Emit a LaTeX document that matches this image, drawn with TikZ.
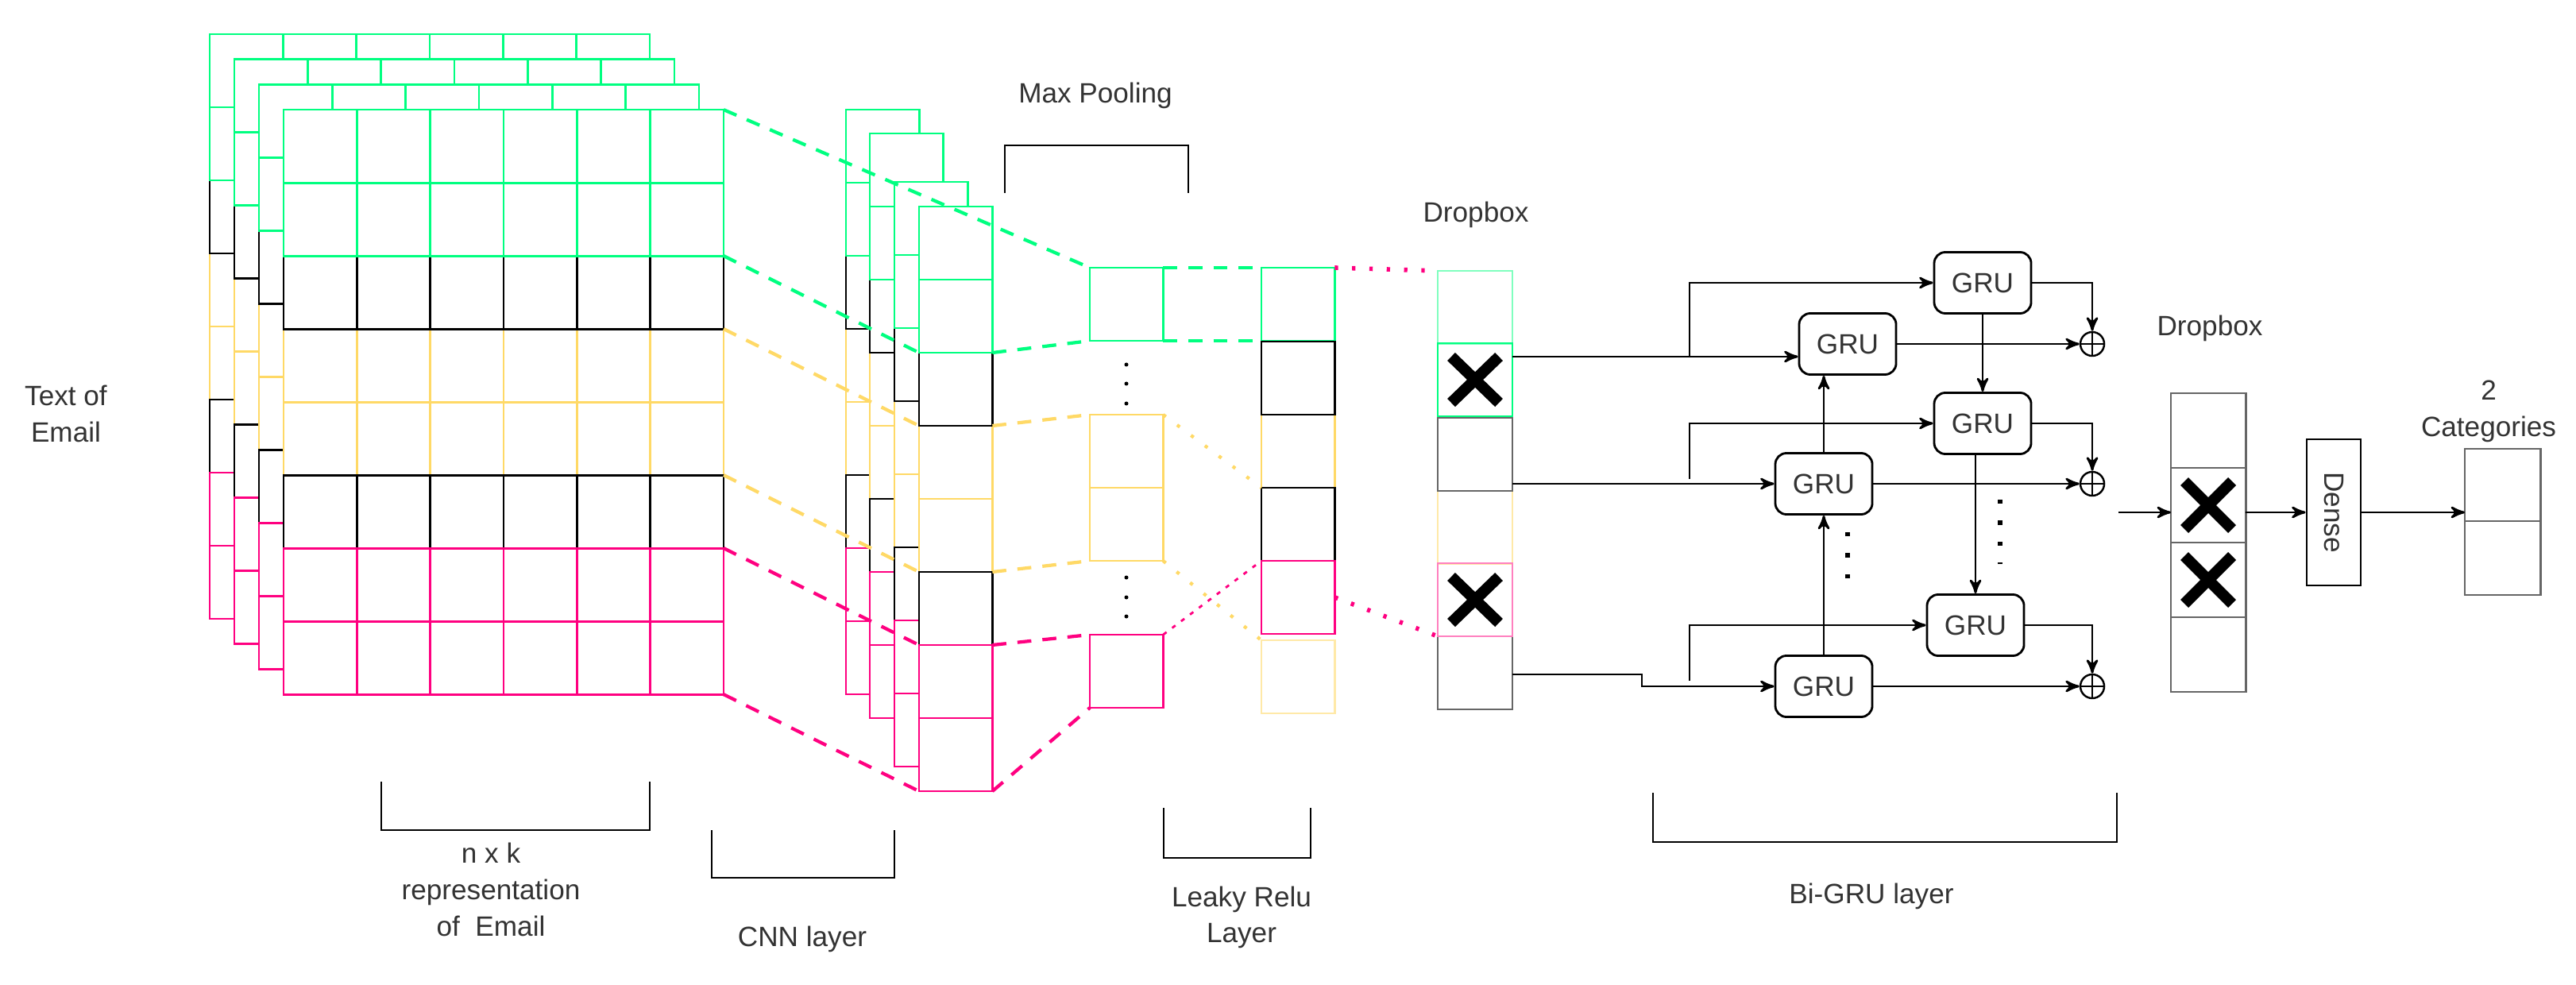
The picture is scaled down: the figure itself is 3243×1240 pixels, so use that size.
\documentclass[tikz,border=0pt]{standalone}
\usepackage{fontspec}
\setmainfont{Liberation Sans}
\usepackage{tikz}
\usetikzlibrary{arrows}
\usetikzlibrary{calc}
\definecolor{cgreen}{HTML}{00FF80}
\definecolor{cyellow}{HTML}{FFD966}
\definecolor{cpink}{HTML}{FF0080}
\definecolor{lgreen}{HTML}{80FFBF}
\definecolor{lyellow}{HTML}{FFE9A8}
\definecolor{lpink}{HTML}{FF80BF}
\definecolor{cgray}{HTML}{666666}
\definecolor{ctext}{HTML}{333333}
\begin{document}
\begin{tikzpicture}
[x=0.01cm,y=-0.01cm,
  cell/.style={draw,line width=0.8pt,inner sep=0pt,outer sep=0pt,
    minimum width=0.923cm,minimum height=0.92cm,anchor=north west},
  dropped/.style={path picture={
    \draw[line width=4pt,black]
      ([xshift=0.17cm,yshift=-0.17cm]path picture bounding box.north west) --
      ([xshift=-0.17cm,yshift=0.17cm]path picture bounding box.south east)
      ([xshift=-0.17cm,yshift=-0.17cm]path picture bounding box.north east) --
      ([xshift=0.17cm,yshift=0.17cm]path picture bounding box.south west);}},
  gru/.style={draw,rounded corners=4pt,line width=0.8pt,minimum width=1.22cm,
    minimum height=0.77cm,font=\fontsize{10}{12}\selectfont,text=ctext},
  plus/.style={draw,circle,line width=0.7pt,minimum size=0.3cm,inner sep=0pt,
    path picture={\draw (path picture bounding box.north) -- (path picture bounding box.south)
      (path picture bounding box.west) -- (path picture bounding box.east);}},
  label/.style={font=\fontsize{10}{13}\selectfont,text=ctext,align=center},
  dashdecorate/.style={line width=1.2pt,dash pattern=on 5pt off 4pt},
  dotdecorate/.style={line width=1.2pt,dash pattern=on 1.2pt off 5pt},
  flow/.style={-stealth',line width=0.8pt},
  bracket/.style={line width=0.8pt}]
\useasboundingbox (0,0) rectangle (3243,1240);
%% n x k grid, four layers
\foreach \lay in {0,...,3}
{
  \pgfmathsetmacro\ox{264+31*\lay}
  \pgfmathsetmacro\oy{43+31.7*\lay}
  \fill[white] (\ox,\oy) rectangle ++(554,736);
  \foreach \r/\col in {3/cyellow, 4/cyellow, 2/black, 5/black, 0/cgreen, 1/cgreen, 6/cpink, 7/cpink}
    \foreach \c in {0,...,5}
      \node[cell,draw=\col] (e\lay-\r-\c) at (\ox+92.33*\c,\oy+92*\r) {};
}
%% CNN columns
\foreach \lay/\ox/\oy in {0/1065/138, 1/1095/168, 2/1126/229, 3/1157/260}
{
  \fill[white] (\ox,\oy) rectangle ++(92,736);
  \foreach \r/\col in {3/cyellow, 4/cyellow, 2/black, 5/black, 0/cgreen, 1/cgreen, 6/cpink, 7/cpink}
    \node[cell,draw=\col] (k\lay-\r) at (\ox,\oy+92*\r) {};
}
%% max pooling
\node[cell,draw=cgreen] (pool1) at (1372,337) {};
\node[cell,draw=cyellow] (pool2a) at (1372,522) {};
\node[cell,draw=cyellow] (pool2b) at (1372,614) {};
\node[cell,draw=cpink] (pool3) at (1372,799) {};
\foreach \y in {459,483,508,727,752,776}
  \fill (1418,\y) circle (2.5);
%% leaky relu
\foreach \i/\y/\col in {5/806/lyellow, 2/522/cyellow, 0/337/cgreen, 1/430/black, 3/614/black, 4/706/cpink}
  \node[cell,draw=\col] (r\i) at (1588,\y) {};
%% dropbox
\foreach \i/\y/\col in {0/341/lgreen, 3/618/lyellow, 2/526/cgray, 5/801/cgray, 1/432/cgreen, 4/709/lpink}
  \node[cell,draw=\col,minimum width=0.94cm] (d\i) at (1810,\y) {};
\node[cell,draw=none,dropped,minimum width=0.94cm] at (d1.north west) {};
\node[cell,draw=none,dropped,minimum width=0.94cm] at (d4.north west) {};
%% grid to CNN
\draw[dashdecorate,cgreen] (e3-0-5.north east) -- (pool1.north west);
\draw[dashdecorate,cgreen] (e3-2-5.north east) -- (k3-2.north west);
\draw[dashdecorate,cyellow] (e3-3-5.north east) -- (k3-3.north west);
\draw[dashdecorate,cyellow] (e3-5-5.north east) -- (k3-5.north west);
\draw[dashdecorate,cpink] (e3-6-5.north east) -- (k3-6.north west);
\draw[dashdecorate,cpink] (e3-7-5.south east) -- (k3-7.south west);
%% CNN to pooling
\draw[dashdecorate,cgreen] (k3-2.north east) -- (pool1.south west);
\draw[dashdecorate,cyellow] (k3-3.north east) -- (pool2a.north west);
\draw[dashdecorate,cyellow] (k3-5.north east) -- (pool2b.south west);
\draw[dashdecorate,cpink] (k3-6.north east) -- (pool3.north west);
\draw[dashdecorate,cpink] (k3-7.south east) -- (pool3.south west);
%% pooling to relu
\draw[dashdecorate,cgreen] (pool1.north east) -- (r0.north west);
\draw[dashdecorate,cgreen] (pool1.south east) -- (r0.south west);
\draw[dotdecorate,cyellow] (pool2a.north east) -- (r2.south west);
\draw[dotdecorate,cyellow] (pool2b.south east) -- (r5.north west);
\draw[cpink,line width=0.8pt,dash pattern=on 1.5pt off 2.5pt] (pool3.north east) -- (r4.north west);
%% relu to dropbox
\draw[dotdecorate,cpink,line width=1.6pt] (r0.north east) -- (d0.north west);
\draw[dotdecorate,cpink,line width=1.6pt] (r4.east) -- (d5.north west);
%% Bi-GRU
\node[gru] (gf1) at (2326,433) {GRU};
\node[gru] (gf2) at (2296,609) {GRU};
\node[gru] (gf3) at (2296,864) {GRU};
\node[gru] (gb1) at (2496,356) {GRU};
\node[gru] (gb2) at (2496,533) {GRU};
\node[gru] (gb3) at (2487,787) {GRU};
\node[plus] (o1) at (2634,433) {};
\node[plus] (o2) at (2634,609) {};
\node[plus] (o3) at (2634,864) {};
\coordinate (in1) at (d1.east |- 0,449);
\coordinate (in2) at (d2.east |- 0,609);
\coordinate (in3) at (d5.east |- 0,849);
\coordinate (b1) at (2127,449);
\coordinate (b2) at (2127,603);
\coordinate (b3) at (2127,857);
\coordinate (step) at (2067,849);
\draw[flow] (in1) -- (in1 -| gf1.west);
\draw[flow] (in2) -- (gf2.west);
\draw[flow] (in3) -- (step) |- (gf3.west);
\draw[flow] (b1) |- (gb1.west);
\draw[flow] (b2) |- (gb2.west);
\draw[flow] (b3) |- (gb3.west);
\draw[flow] (gf3.north) -- (gf2.south);
\draw[flow] (gf2.north) -- (gf2.north |- gf1.south);
\draw[flow] (gb1.south) -- (gb1.south |- gb2.north);
\draw[flow] (gb2.south -| gb3.north) -- (gb3.north);
\foreach \f/\b/\o in {gf1/gb1/o1, gf2/gb2/o2, gf3/gb3/o3}
{
  \draw[flow] (\f.east) -- (\o.west);
  \draw[flow] (\b.east) -| (\o.north);
}
\draw[line width=1.5pt,dash pattern=on 1.5pt off 6pt] (2326,670) -- (2326,745);
\draw[line width=1.5pt,dash pattern=on 1.5pt off 6pt] (2518,629) -- (2518,710);
%% second dropbox, dense, output
\foreach \i/\y in {0/495, 1/589, 2/683, 3/777}
  \node[cell,draw=cgray,minimum width=0.94cm,minimum height=0.94cm] (f\i) at (2733,\y) {};
\node[cell,draw=none,dropped,minimum width=0.94cm,minimum height=0.94cm] at (f1.north west) {};
\node[cell,draw=none,dropped,minimum width=0.94cm,minimum height=0.94cm] at (f2.north west) {};
\node[draw,line width=0.8pt,rotate=-90,minimum width=1.84cm,minimum height=0.68cm,inner sep=0pt,
  font=\fontsize{10}{12}\selectfont,text=ctext] (dense) at (2938,645) {Dense};
\node[cell,draw=cgray,minimum width=0.95cm,minimum height=0.91cm] (c0) at (3103,565) {};
\node[cell,draw=cgray,minimum width=0.95cm,minimum height=0.93cm] (c1) at (3103,656) {};
\coordinate (into) at (2667,645);
\draw[flow] (into) -- (into -| f1.west);
\draw[flow] (dense.south -| f1.east) -- (dense.south);
\draw[flow] (dense.north) -- (dense.north -| c0.west);
%% brackets
\draw[bracket] (480,984) -- (480,1045) -- (818,1045) -- (818,984);
\draw[bracket] (896,1045) -- (896,1105) -- (1126,1105) -- (1126,1045);
\draw[bracket] (1265,243) -- (1265,183) -- (1496,183) -- (1496,243);
\draw[bracket] (1465,1017) -- (1465,1080) -- (1650,1080) -- (1650,1017);
\draw[bracket] (2081,998) -- (2081,1060) -- (2665,1060) -- (2665,998);
%% labels
\node[label] (email) at (83,521) {Text of\\Email};
\node[label] (nxk) at (618,1120) {n x k\\representation\\of \ Email};
\node[label] (cnn) at (1010,1182) {CNN layer};
\node[label] (maxp) at (1379,120) {Max Pooling};
\node[label] (leaky) at (1563,1155) {Leaky Relu\\Layer};
\node[label] (drop1) at (1858,270) {Dropbox};
\node[label] (bigru) at (2356,1128) {Bi-GRU layer};
\node[label] (drop2) at (2782,413) {Dropbox};
\node[label] (cats) at (3133,518) {2\\Categories};
\end{tikzpicture}
\end{document}
